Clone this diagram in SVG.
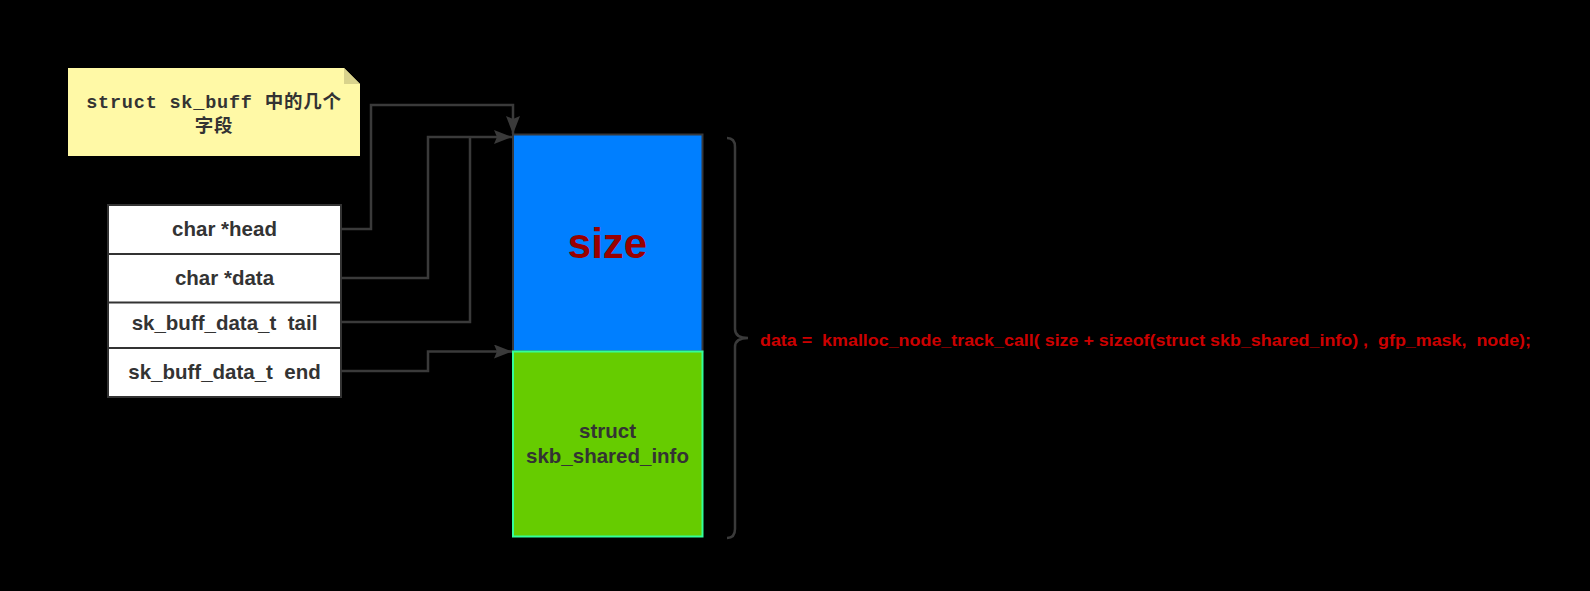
<svg xmlns="http://www.w3.org/2000/svg" width="1590" height="591" viewBox="0 0 1590 591">
<defs>
<marker id="arr" markerUnits="userSpaceOnUse" markerWidth="22" markerHeight="16" refX="18" refY="7" orient="auto">
<path d="M0,0 L18,7 L0,14 L3,7 z" fill="#3A3A3A"/>
</marker>
<style>
.cell{fill:#ffffff;stroke:#333333;stroke-width:2}
.lbl{font-family:"Liberation Sans",Arial,sans-serif;font-weight:bold;font-size:20.5px;fill:#333333;text-anchor:middle;white-space:pre}
.conn{fill:none;stroke:#3A3A3A;stroke-width:2.5}
.note{font-family:"Liberation Mono","Noto Sans CJK SC",monospace;font-size:18.5px;font-weight:bold;letter-spacing:0.8px;fill:#333333;text-anchor:middle;white-space:pre}
</style>
</defs>
<rect width="1590" height="591" fill="#000000"/>
<g id="note">
<path d="M68,68 H344 L360,84 V156 H68 Z" fill="#FFF9A6"/>
<path d="M344,68 L360,84 H344 Z" fill="#D9D38C"/>
<text class="note" x="214" y="108">struct sk_buff 中的几个</text>
<text class="note" x="214" y="132">字段</text>
</g>
<g id="skbuff-table">
<rect class="cell" x="108" y="205" width="233" height="192"/>
<line x1="108" y1="254" x2="341" y2="254" stroke="#333333" stroke-width="2"/>
<line x1="108" y1="302.5" x2="341" y2="302.5" stroke="#333333" stroke-width="2"/>
<line x1="108" y1="348" x2="341" y2="348" stroke="#333333" stroke-width="2"/>
<text class="lbl" x="224.5" y="236" xml:space="preserve">char *head</text>
<text class="lbl" x="224.5" y="284.5" xml:space="preserve">char *data</text>
<text class="lbl" x="224.5" y="330" xml:space="preserve">sk_buff_data_t  tail</text>
<text class="lbl" x="224.5" y="378.5" xml:space="preserve">sk_buff_data_t  end</text>
</g>
<g id="size-block">
<rect x="513" y="134.5" width="189.5" height="217" fill="#007FFF" stroke="#36393D" stroke-width="2"/>
<text x="607.5" y="258" font-family="'Liberation Sans',Arial,sans-serif" font-weight="bold" font-size="42px" fill="#990000" text-anchor="middle">size</text>
</g>
<g id="shared-info-block">
<rect x="513" y="351.5" width="189.5" height="185" fill="#66CC00" stroke="#33FF99" stroke-width="2"/>
<text class="lbl" x="607.5" y="438">struct</text>
<text class="lbl" x="607.5" y="463">skb_shared_info</text>
</g>
<g id="brace">
<path class="conn" d="M727,138 Q735,138 735,147 L735,329 Q735,338 748,338 Q735,338 735,347 L735,529 Q735,538 727,538"/>
</g>
<g id="formula">
<text x="760" y="346" font-family="'Liberation Sans',Arial,sans-serif" font-weight="bold" font-size="17px" fill="#CC0000" textLength="771" lengthAdjust="spacingAndGlyphs" xml:space="preserve">data =  kmalloc_node_track_call( size + sizeof(struct skb_shared_info) ,  gfp_mask,  node);</text>
</g>
<g id="connectors">
<path class="conn" d="M341,229 H371 V105 H513 V134" marker-end="url(#arr)"/>
<path class="conn" d="M341,278 H428 V137 H512" marker-end="url(#arr)"/>
<path class="conn" d="M341,322 H470 V137"/>
<path class="conn" d="M341,371 H428 V351.5 H512" marker-end="url(#arr)"/>
</g>
</svg>
